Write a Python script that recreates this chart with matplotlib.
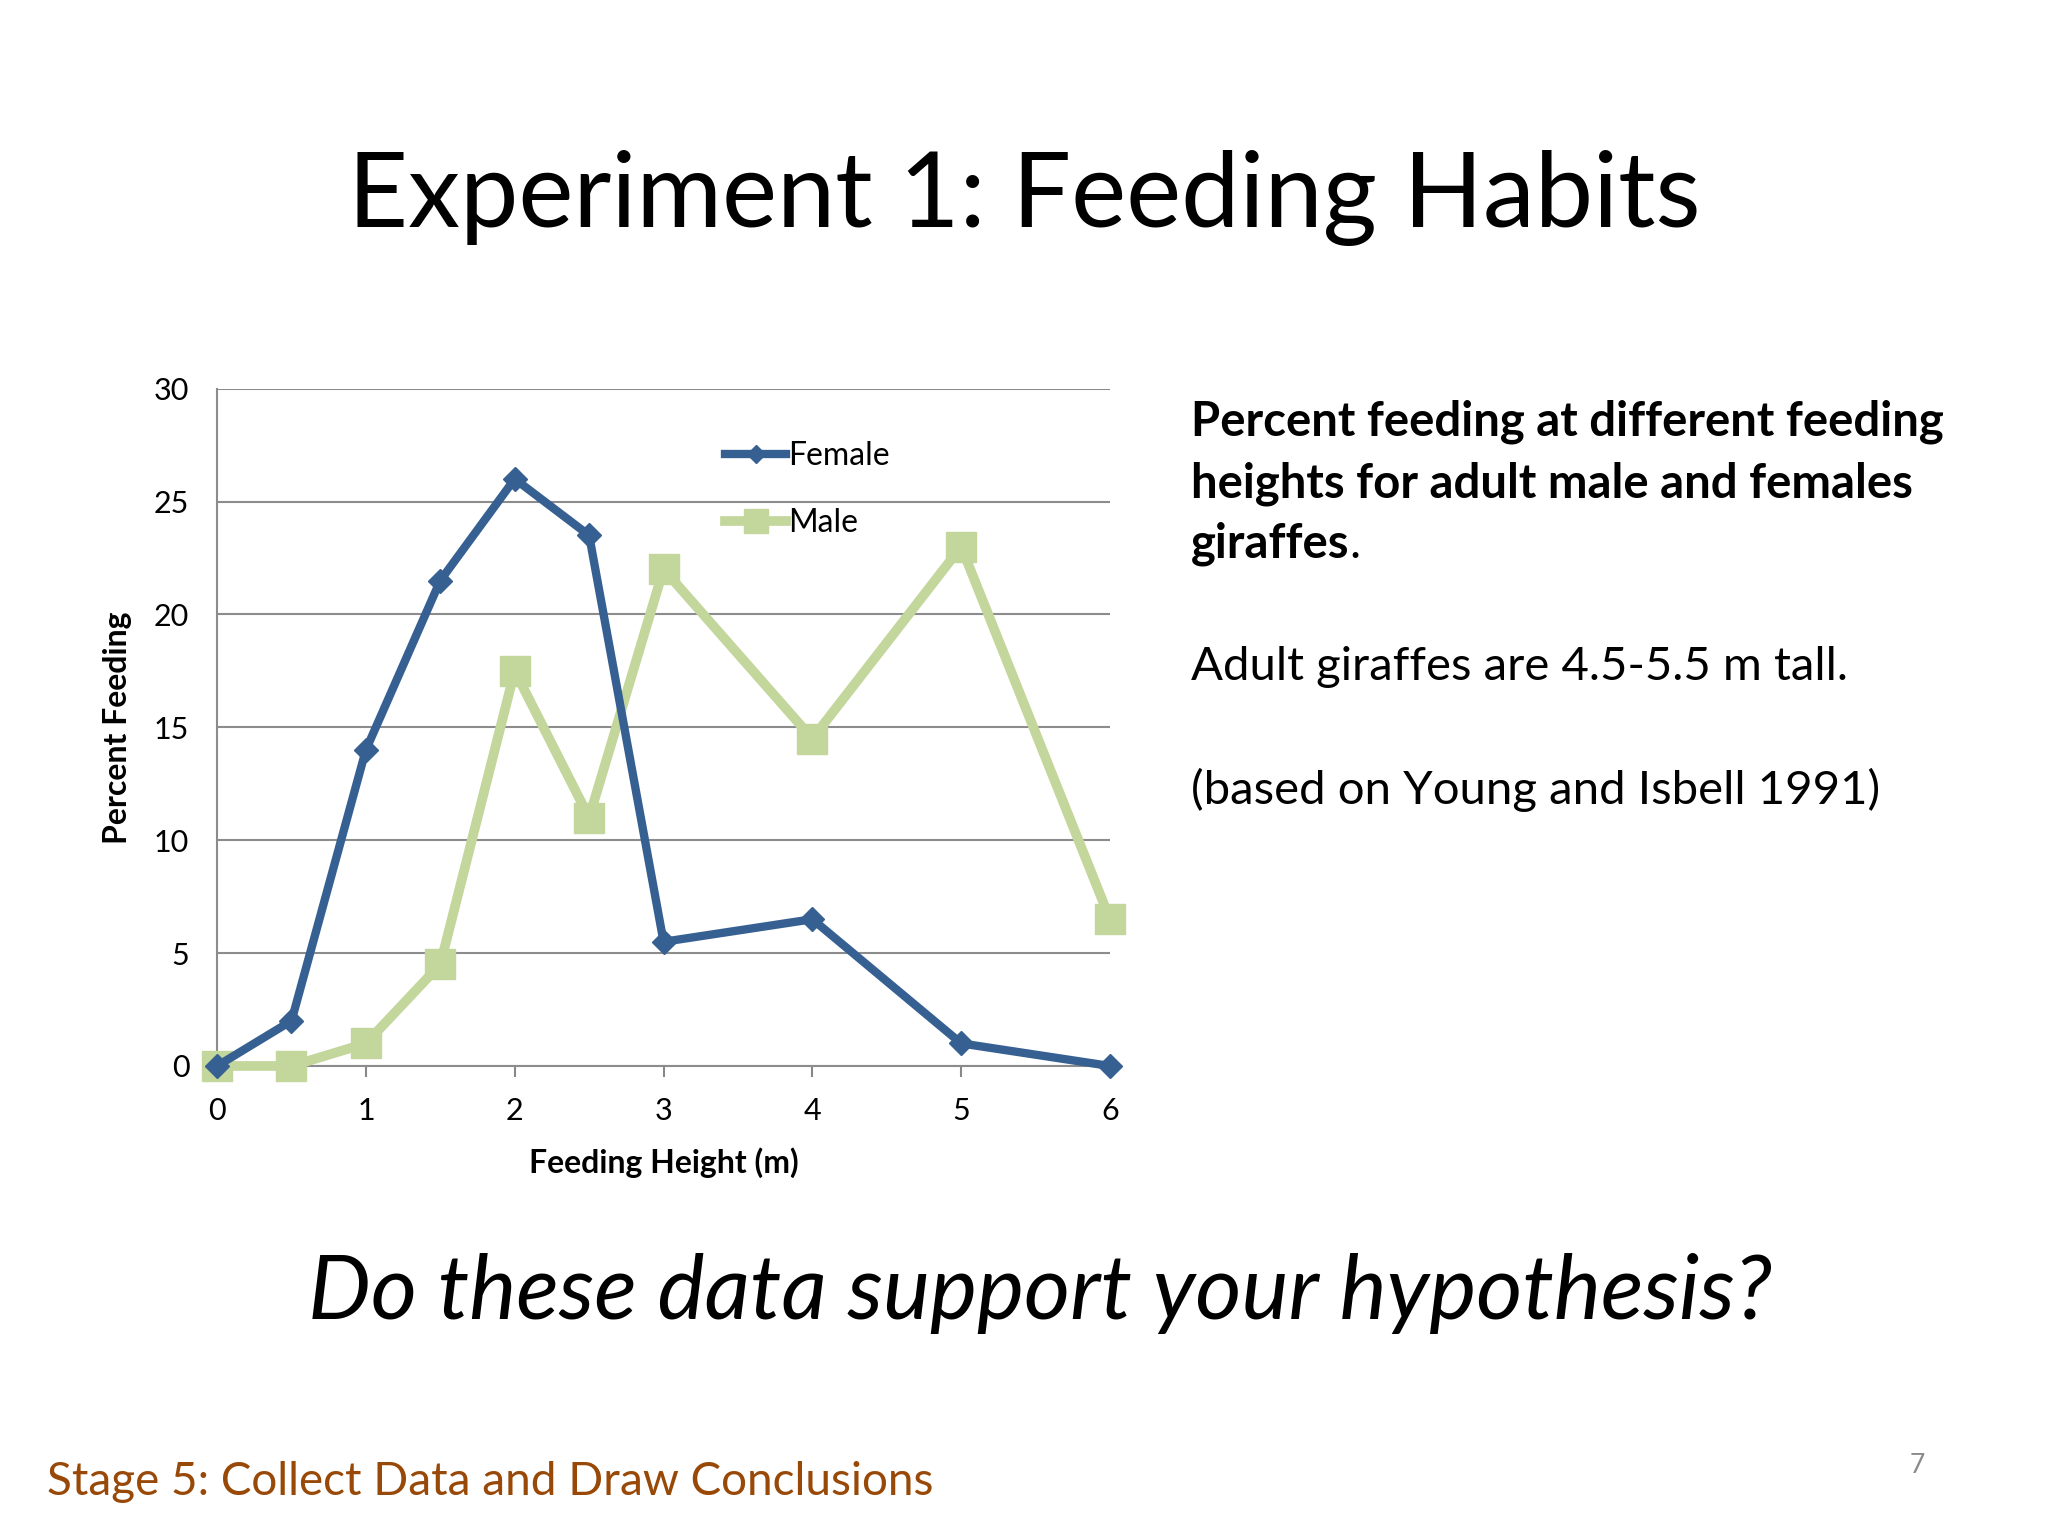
import matplotlib
matplotlib.use("Agg")
import matplotlib.pyplot as plt

heights = [0, 0.5, 1, 1.5, 2, 2.5, 3, 4, 5, 6]
female = [0, 2, 14, 21.5, 26, 23.5, 5.5, 6.5, 1, 0]
male = [0, 0, 1, 4.5, 17.5, 11, 22, 14.5, 23, 6.5]
xticks = [0, 1, 2, 3, 4, 5, 6]
yticks = [0, 5, 10, 15, 20, 25, 30]

FONT = ["Lato", "DejaVu Sans"]
plt.rcParams["font.family"] = FONT

fig = plt.figure(figsize=(20.48, 15.36), dpi=100)
fig.patch.set_facecolor("white")

ax = fig.add_axes([0.106, 0.306, 0.436, 0.441])
ax.plot(heights, female, color="#376092", lw=6, marker="D", markersize=12,
        markerfacecolor="#376092", markeredgecolor="#376092", label="Female",
        clip_on=False, zorder=4)
ax.plot(heights, male, color="#C3D69B", lw=7, marker="s", markersize=22,
        markerfacecolor="#C3D69B", markeredgecolor="#C3D69B", label="Male",
        clip_on=False, zorder=3)

ax.set_xlim(0, 6)
ax.set_ylim(0, 30)
ax.set_xticks(xticks)
ax.set_yticks(yticks)
ax.tick_params(axis="both", labelsize=22, colors="#888888", labelcolor="black",
               length=8, width=1.5)
ax.tick_params(axis="y", length=0, pad=20)
ax.tick_params(axis="x", pad=14)
ax.grid(axis="y", color="#8c8c8c", lw=1.5)
ax.set_axisbelow(True)
for s in ["top", "right"]:
    ax.spines[s].set_visible(False)
for s in ["left", "bottom"]:
    ax.spines[s].set_color("#8c8c8c")
    ax.spines[s].set_linewidth(1.5)

ax.set_xlabel("Feeding Height (m)", fontsize=23, fontweight="bold", labelpad=16)
ax.set_ylabel("Percent Feeding", fontsize=23, fontweight="bold", labelpad=16)

leg = ax.legend(loc="upper left", bbox_to_anchor=(0.537, 0.965), frameon=False,
                fontsize=23, handlelength=1.9, handletextpad=0.05,
                labelspacing=1.15, markerscale=0.8)

fig.text(0.5, 0.871, "Experiment 1: Feeding Habits", ha="center", va="center",
         fontsize=75, color="black")

x0 = 0.5815
fig.text(x0, 1 - 323 / 1176, "Percent feeding at different feeding", ha="left", va="center",
         fontsize=34, fontweight="bold")
fig.text(x0, 1 - 370 / 1176, "heights for adult male and females", ha="left", va="center",
         fontsize=34, fontweight="bold")
t3 = fig.text(x0, 1 - 416 / 1176, "giraffes", ha="left", va="center",
              fontsize=34, fontweight="bold")
fig.add_artist(plt.Annotation(".", xy=(1, 0), xycoords=t3, xytext=(0, 0),
                              textcoords="offset points", ha="left", va="bottom",
                              fontsize=34))
fig.text(x0, 1 - 511 / 1176, "Adult giraffes are 4.5-5.5 m tall.", ha="left", va="center", fontsize=34)
fig.text(x0, 1 - 605 / 1176, "(based on Young and Isbell 1991)", ha="left", va="center", fontsize=34)

fig.text(0.508, 1 - 990 / 1176, "Do these data support your hypothesis?", ha="center", va="center",
         fontsize=64, style="italic")

fig.text(0.023, 1 - 1135 / 1176, "Stage 5: Collect Data and Draw Conclusions", ha="left", va="center",
         fontsize=33, color="#984807")
fig.text(0.936, 1 - 1122 / 1176, "7", ha="center", va="center", fontsize=19, color="#8a8a8a")

fig.savefig("out.png", dpi=100, facecolor="white")
